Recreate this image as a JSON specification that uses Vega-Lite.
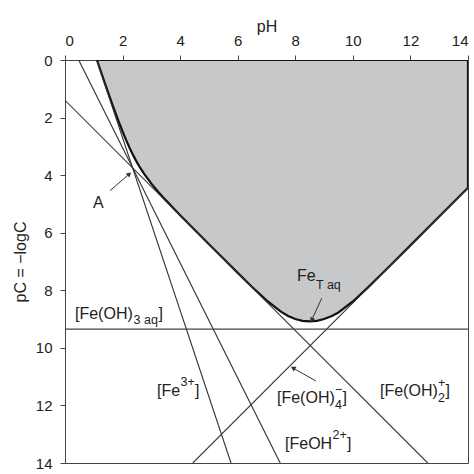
{
  "$schema": "https://vega.github.io/schema/vega-lite/v6.json",
  "width": 403,
  "height": 403,
  "autosize": {"type": "none"},
  "padding": {"left": 65, "top": 60, "right": 6, "bottom": 11},
  "background": "white",
  "config": {
    "view": {"stroke": "#444", "strokeWidth": 1},
    "font": "Liberation Sans",
    "axis": {
      "grid": false,
      "domainColor": "#444",
      "tickColor": "#444",
      "tickSize": 5,
      "labelFont": "Liberation Sans",
      "labelFontSize": 15,
      "labelColor": "#222",
      "titleFont": "Liberation Sans",
      "titleFontSize": 16,
      "titleFontWeight": "normal",
      "titleColor": "#222"
    }
  },
  "datasets": {
    "curve": [
      {"pH": 1.11, "pC": 0},
      {"pH": 1.25, "pC": 0.414},
      {"pH": 1.375, "pC": 0.777},
      {"pH": 1.5, "pC": 1.135},
      {"pH": 1.625, "pC": 1.487},
      {"pH": 1.75, "pC": 1.831},
      {"pH": 1.875, "pC": 2.164},
      {"pH": 2.0, "pC": 2.484},
      {"pH": 2.125, "pC": 2.785},
      {"pH": 2.25, "pC": 3.065},
      {"pH": 2.375, "pC": 3.322},
      {"pH": 2.5, "pC": 3.556},
      {"pH": 2.625, "pC": 3.767},
      {"pH": 2.75, "pC": 3.958},
      {"pH": 3.0, "pC": 4.295},
      {"pH": 3.25, "pC": 4.592},
      {"pH": 3.5, "pC": 4.868},
      {"pH": 4.0, "pC": 5.39},
      {"pH": 4.5, "pC": 5.897},
      {"pH": 5.0, "pC": 6.399},
      {"pH": 5.5, "pC": 6.898},
      {"pH": 6.0, "pC": 7.395},
      {"pH": 6.5, "pC": 7.885},
      {"pH": 7.0, "pC": 8.35},
      {"pH": 7.5, "pC": 8.74},
      {"pH": 7.75, "pC": 8.89},
      {"pH": 8.0, "pC": 9.0},
      {"pH": 8.25, "pC": 9.06},
      {"pH": 8.5, "pC": 9.08},
      {"pH": 8.75, "pC": 9.06},
      {"pH": 9.0, "pC": 9.0},
      {"pH": 9.25, "pC": 8.9},
      {"pH": 9.5, "pC": 8.77},
      {"pH": 10.0, "pC": 8.389},
      {"pH": 10.5, "pC": 7.924},
      {"pH": 11.0, "pC": 7.435},
      {"pH": 11.5, "pC": 6.938},
      {"pH": 12.0, "pC": 6.439},
      {"pH": 13.0, "pC": 5.44},
      {"pH": 14.0, "pC": 4.44}
    ],
    "lines": [
      {"species": "Fe3+", "pH": 1.1, "pC": 0},
      {"species": "Fe3+", "pH": 5.767, "pC": 14},
      {"species": "FeOH2+", "pH": 0.475, "pC": 0},
      {"species": "FeOH2+", "pH": 7.475, "pC": 14},
      {"species": "Fe(OH)2+", "pH": 0, "pC": 1.4},
      {"species": "Fe(OH)2+", "pH": 12.6, "pC": 14},
      {"species": "Fe(OH)4-", "pH": 4.44, "pC": 14},
      {"species": "Fe(OH)4-", "pH": 14, "pC": 4.44}
    ],
    "solid": [{"species": "Fe(OH)3aq", "pC": 9.35}],
    "labels": [
      {"part": "main", "text": "[Fe(OH)", "pH": 0.347, "pC": 8.824},
      {"part": "sub", "text": "3 aq", "pH": 2.38, "pC": 9.03},
      {"part": "main", "text": "]", "pH": 3.248, "pC": 8.824},
      {"part": "main", "text": "[Fe", "pH": 3.196, "pC": 11.499},
      {"part": "sub", "text": "3+", "pH": 4.012, "pC": 11.19},
      {"part": "main", "text": "]", "pH": 4.516, "pC": 11.499},
      {"part": "main", "text": "[Fe(OH)", "pH": 7.365, "pC": 11.742},
      {"part": "sub", "text": "−", "pH": 9.379, "pC": 11.45},
      {"part": "sub", "text": "4", "pH": 9.379, "pC": 11.99},
      {"part": "main", "text": "]", "pH": 9.64, "pC": 11.742},
      {"part": "main", "text": "[FeOH", "pH": 7.643, "pC": 13.34},
      {"part": "sub", "text": "2+", "pH": 9.292, "pC": 13.04},
      {"part": "main", "text": "]", "pH": 9.796, "pC": 13.34},
      {"part": "main", "text": "[Fe(OH)", "pH": 10.943, "pC": 11.516},
      {"part": "sub", "text": "+", "pH": 12.958, "pC": 11.221},
      {"part": "sub", "text": "2", "pH": 12.958, "pC": 11.74},
      {"part": "main", "text": "]", "pH": 13.218, "pC": 11.516},
      {"part": "main", "text": "Fe", "pH": 8.059, "pC": 7.521},
      {"part": "sub", "text": "T aq", "pH": 8.72, "pC": 7.816},
      {"part": "main", "text": "A", "pH": 0.973, "pC": 4.968}
    ],
    "arrows": [
      {"arrow": "A", "end": "tail", "pH": 1.563, "pC": 4.54},
      {"arrow": "A", "end": "head", "pH": 2.234, "pC": 3.96},
      {"arrow": "FeT", "end": "tail", "pH": 8.918, "pC": 8.278},
      {"arrow": "FeT", "end": "head", "pH": 8.57, "pC": 9.032},
      {"arrow": "FeOH4", "end": "tail", "pH": 8.719, "pC": 11.151},
      {"arrow": "FeOH4", "end": "head", "pH": 7.921, "pC": 10.7}
    ]
  },
  "layer": [
    {
      "data": {"name": "curve"},
      "mark": {"type": "area", "fill": "#c7c8ca", "stroke": "#111", "strokeWidth": 2.2, "clip": true},
      "encoding": {
        "x": {"field": "pH", "type": "quantitative", "scale": {"domain": [0, 14], "nice": false, "zero": false},
              "axis": {"orient": "top", "title": "pH", "values": [0, 2, 4, 6, 8, 10, 12, 14], "labelPadding": 6.5, "titlePadding": -1}},
        "y": {"field": "pC", "type": "quantitative", "scale": {"domain": [0, 14], "reverse": true, "nice": false, "zero": false},
              "axis": {"orient": "left", "title": "pC = −logC", "values": [0, 2, 4, 6, 8, 10, 12, 14], "labelPadding": 8, "titlePadding": 7}},
        "y2": {"datum": 0}
      }
    },
    {
      "data": {"name": "lines"},
      "mark": {"type": "line", "color": "#333", "strokeWidth": 1.1, "clip": true},
      "encoding": {
        "x": {"field": "pH", "type": "quantitative"},
        "y": {"field": "pC", "type": "quantitative"},
        "detail": {"field": "species"}
      }
    },
    {
      "data": {"name": "solid"},
      "mark": {"type": "rule", "color": "#444", "strokeWidth": 1.1},
      "encoding": {"y": {"field": "pC", "type": "quantitative"}}
    },
    {
      "data": {"name": "labels"},
      "transform": [{"filter": "datum.part === 'main'"}],
      "mark": {"type": "text", "align": "left", "baseline": "middle", "fontSize": 16, "color": "#222", "font": "Liberation Sans"},
      "encoding": {
        "x": {"field": "pH", "type": "quantitative"},
        "y": {"field": "pC", "type": "quantitative"},
        "text": {"field": "text"}
      }
    },
    {
      "data": {"name": "labels"},
      "transform": [{"filter": "datum.part === 'sub'"}],
      "mark": {"type": "text", "align": "left", "baseline": "middle", "fontSize": 12.5, "color": "#222", "font": "Liberation Sans"},
      "encoding": {
        "x": {"field": "pH", "type": "quantitative"},
        "y": {"field": "pC", "type": "quantitative"},
        "text": {"field": "text"}
      }
    },
    {
      "data": {"name": "arrows"},
      "mark": {"type": "line", "color": "#333", "strokeWidth": 1},
      "encoding": {
        "x": {"field": "pH", "type": "quantitative"},
        "y": {"field": "pC", "type": "quantitative"},
        "detail": {"field": "arrow"}
      }
    },
    {
      "data": {"name": "arrows"},
      "transform": [{"filter": "datum.end === 'head' && datum.arrow === 'A'"}],
      "mark": {"type": "point", "shape": "triangle-up", "filled": true, "color": "#333", "size": 30, "angle": 49, "opacity": 1},
      "encoding": {"x": {"field": "pH", "type": "quantitative"}, "y": {"field": "pC", "type": "quantitative"}}
    },
    {
      "data": {"name": "arrows"},
      "transform": [{"filter": "datum.end === 'head' && datum.arrow === 'FeT'"}],
      "mark": {"type": "point", "shape": "triangle-up", "filled": true, "color": "#333", "size": 30, "angle": 204.7, "opacity": 1},
      "encoding": {"x": {"field": "pH", "type": "quantitative"}, "y": {"field": "pC", "type": "quantitative"}}
    },
    {
      "data": {"name": "arrows"},
      "transform": [{"filter": "datum.end === 'head' && datum.arrow === 'FeOH4'"}],
      "mark": {"type": "point", "shape": "triangle-up", "filled": true, "color": "#333", "size": 30, "angle": 299.5, "opacity": 1},
      "encoding": {"x": {"field": "pH", "type": "quantitative"}, "y": {"field": "pC", "type": "quantitative"}}
    }
  ]
}
